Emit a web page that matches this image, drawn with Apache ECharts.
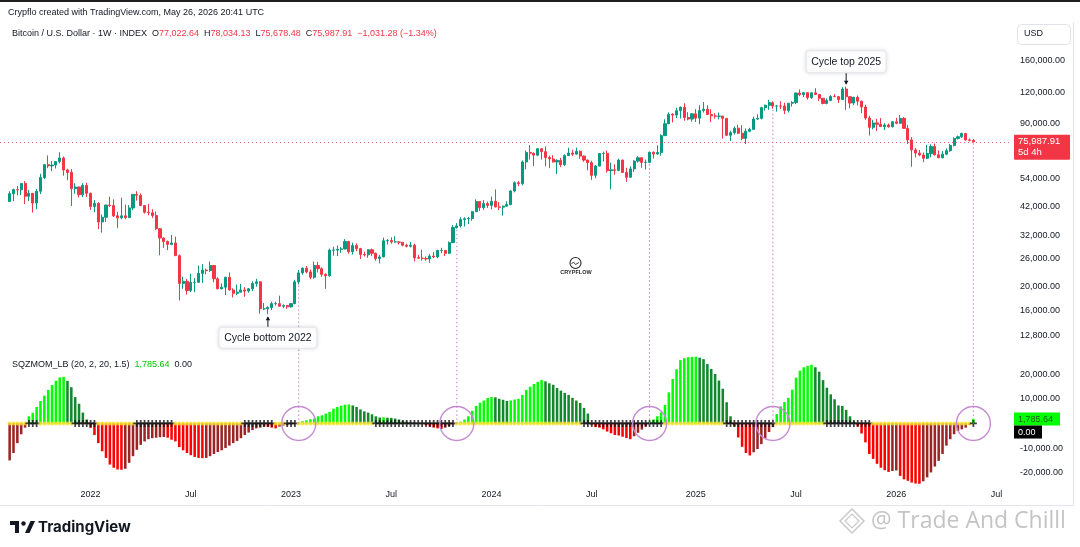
<!DOCTYPE html>
<html>
<head>
<meta charset="utf-8">
<script src="https://cdn.jsdelivr.net/npm/echarts@6/dist/echarts.min.js"></script>
<style>
  html, body { margin: 0; padding: 0; background: #fff; }
  #chart { width: 1080px; height: 547px; }
</style>
</head>
<body>
<div id="chart"></div>
<script>
// BTC / USD weekly, first bar = week of 2021-08-09, last = 2026-05-25
const firstWeek = '2021-08-09';
const leadBars = 2;   // empty slots left of the first candle
const tailBars = 9;   // empty slots right of the last candle
const firstOpen = 43800;

const closes = [
  // 2021
  47080,48900,48800,51780,46010,47260,43210,48200,54660,61530,60860,61320,63300,65470,58620,57280,49390,50100,46680,50800,47300,
  // 2022
  41900,43100,36300,37900,42400,42200,38400,37700,38400,37800,41300,46800,46400,42200,39700,39500,38500,34100,31300,30300,29500,29900,26600,20600,21000,19300,
  20800,20800,22600,23300,23200,24300,21500,19600,19900,21800,19400,18800,19000,19400,19200,19600,20600,20900,16300,16300,16500,17100,17100,16700,16800,16600,
  // 2023
  17100,20900,22700,23700,22900,21800,24300,23600,22400,22100,28000,28000,28200,28300,30300,27600,29200,28400,26900,26800,28100,27200,25900,26300,30500,30600,
  30200,30200,30100,29300,29000,29300,26100,26000,25900,25800,26500,26300,27900,27900,27200,30000,34500,35000,37100,37400,37500,39900,43800,41400,43000,42300,
  // 2024
  43900,41700,41600,42000,42600,48300,52100,51700,63100,68900,68400,67200,71300,69400,65700,64900,63100,64000,61500,66900,68500,67800,69600,66600,64200,62700,
  55800,60800,68200,68300,58200,58700,58400,64200,57300,54800,59200,63600,65600,62800,62900,69000,67900,68800,80400,89800,97900,97200,101200,104500,95100,93700,98300,
  // 2025
  94500,101300,102600,97700,96500,96200,96300,94300,80700,82600,86100,82300,78400,83800,85200,93700,94300,104100,106400,109000,105700,105700,105600,101500,108400,109200,
  119100,117300,119500,114200,119300,117500,113500,108200,111200,115300,115200,112200,123500,115100,108600,114500,110500,104700,94600,86800,90400,89300,87400,88700,87300,91400,
  // 2026
  90100,94300,86000,77300,70500,68500,67300,65300,68200,72800,67400,65600,67800,70000,73500,78400,79600,82000,77300,77022.64,75987.91
];

const highs = [
  48150,49300,50500,51900,52920,48800,47350,49200,56600,62000,66999,63700,63400,69000,66300,59300,59100,51900,50200,51900,52100,
  47500,44400,43500,38900,42600,45800,44700,39800,45400,42600,42400,46900,48200,47200,42400,42900,40800,40000,34300,31500,30600,32200,31700,26900,21900,21500,
  22500,21600,24300,24600,23600,25200,24400,21800,20600,21900,22800,19700,20400,20500,19900,19700,21000,21500,21000,17200,16700,17400,17400,18400,17000,16900,
  17200,21300,23300,23900,24200,23400,25200,25100,23900,22600,28400,28900,29200,28800,31000,30500,30000,29800,28600,27600,28200,28400,27400,26800,31400,31000,
  31500,31800,30400,29800,29700,30200,29700,26800,28100,26400,27000,27500,28100,28600,28000,30300,35300,35900,37900,37900,38000,40200,44700,44000,44400,43800,
  45900,49000,43600,42200,43900,48600,52800,52900,64000,70100,73800,68900,71700,71300,72800,66900,67200,64700,65500,67700,71900,70600,72000,70200,67000,64500,
  63800,61300,68400,69400,70000,62700,61800,65000,64500,59800,60600,64100,66500,66000,64500,69400,69500,73600,81500,93500,99600,98900,104000,105200,108400,99900,99000,
  102700,106400,109600,106500,102500,98800,99500,96500,94400,84100,87500,88800,88500,85900,86500,95800,97900,104900,107100,111900,110400,106800,110500,108900,108500,110600,
  119500,123200,120200,119800,119400,124500,117600,113600,113400,116800,117900,116000,125700,126200,116000,115000,116400,111000,107000,96600,93100,93900,94500,90200,89900,91900,
  94700,97300,95500,88700,79300,71800,70500,68800,73800,74200,74800,70200,69800,71500,74500,79000,80500,82700,82300,78400,78034.13
];

const lows = [
  43750,43950,46400,46500,42830,44000,39600,40800,46900,53900,59600,58000,59400,62300,55600,53300,42000,47100,45500,45600,45700,
  40600,39700,34000,32900,36300,41700,38000,34300,37200,37200,37600,40500,44200,42100,39200,38600,37700,33700,26700,28600,28000,29300,26600,17600,19600,18600,
  19000,19000,20800,20700,22400,22900,20800,19500,19500,18500,19300,18100,18500,19100,18200,18900,19200,20000,15600,16100,15500,16100,16800,16600,16400,16300,
  16500,17100,20400,22300,22600,21400,21500,22800,21900,19600,21900,26600,26500,27300,28200,27100,26900,27700,25800,26400,26100,26500,25400,24800,26200,29500,
  29700,30000,29500,29000,28700,28700,25200,25800,25400,25400,24900,26000,26000,27200,26500,27000,29900,34100,34500,34800,35600,36700,39900,40200,40600,41300,
  40800,41500,40500,38500,41800,42300,47700,50500,50900,59000,64500,60800,66600,64500,60600,59600,62800,56500,60200,60800,66700,66600,67500,65000,63200,58400,
  53500,54300,60600,63400,57200,49000,56100,57900,57200,52500,54600,57500,62700,59800,58900,62400,65100,67500,66800,80200,89400,90800,94500,94200,92200,92600,91500,
  91200,89300,99500,97700,91200,94100,93400,78200,80100,76600,81200,81600,77100,74400,83100,85200,92800,93400,101400,102100,103100,100400,102700,98200,99600,105100,
  107500,115700,114700,112000,112700,117200,110700,107300,107300,110600,114700,108700,111600,102000,103500,106500,106300,98900,93000,80600,85300,83900,87200,84800,86500,86700,
  89300,89800,85800,74500,60400,65800,66500,63000,64700,65900,67000,65400,65200,67200,69200,72800,77600,78800,76800,76300,75678.48
];

// SQZMOM_LB (20, 2, 20, 1.5) histogram, one value per week
const sqzMom = [
  -15000,-12000,-8000,-4400,-1700,2900,4300,6700,9100,11300,
  13600,15600,17300,18700,18900,17300,14700,10700,8000,4400,
  1600,-1800,-4700,-8000,-11300,-14000,-16700,-18000,-18700,-18800,
  -18400,-16000,-13300,-10700,-8700,-7300,-6400,-6000,-5800,-5600,
  -5500,-5800,-6600,-7300,-9600,-10900,-12000,-12900,-13600,-14000,
  -14100,-14000,-13300,-12400,-11600,-10900,-10000,-9000,-8000,-7100,
  -6000,-4700,-3700,-2700,-2000,-1700,-1300,-1400,-1700,-2000,
  -1300,-900,-700,-400,-300,300,900,1300,1700,2000,
  2900,3300,4000,4700,6000,6700,7200,7600,7700,7300,
  6700,5700,4900,4400,3700,2900,2400,2500,2300,2250,
  2000,1600,1100,700,400,300,100,50,-700,-1300,
  -1700,-2000,-2300,-1700,-1100,-400,200,700,1600,2900,
  5100,7100,8400,9300,10300,10700,10600,10000,9600,9100,
  9300,9700,10000,11600,13600,14900,16000,16900,17600,17100,
  16300,15700,14400,13300,12400,11600,10400,9300,8300,6300,
  4000,-500,-1500,-1700,-2400,-3300,-4000,-4700,-4900,-5400,
  -5900,-6400,-5200,-3800,-2500,-1200,400,1600,2900,4500,
  7500,12600,18000,22000,25700,26500,26900,27000,27100,26700,
  26100,24100,22100,20100,17400,14100,8600,2900,-1300,-5700,
  -9500,-12000,-13000,-11700,-10400,-8400,-6000,-3500,-1500,3800,
  6900,8700,10400,13700,18600,21400,22800,23400,23800,22800,
  21000,17600,14500,11800,9800,7300,7100,5500,2900,800,
  -1200,-4100,-7700,-12400,-14400,-16400,-18000,-19000,-19700,-19300,
  -19100,-21300,-22700,-23300,-24000,-24400,-24500,-23500,-21900,-19900,
  -17500,-15200,-12400,-9000,-6400,-4400,-3100,-2400,-1700,-600,
  1785.64
];

// weeks (bar index) where the squeeze is on -> black crosses on the zero line
const squeezeOn = [[5,7],[17,22],[33,42],[61,68],[72,74],[95,115],[149,169],[186,198],[212,223],[250,250]];

const priceTicks = [12800,16000,20000,26000,32000,42000,54000,90000,120000,160000];
const momTicks = [-20000,-10000,10000,20000];
const timeLabelDates = ['2022-01-03','2022-07-04','2023-01-02','2023-07-03','2024-01-01','2024-07-01','2025-01-06','2025-07-07','2026-01-05','2026-07-06'];
const timeLabelTexts = ['2022','Jul','2023','Jul','2024','Jul','2025','Jul','2026','Jul'];

const markedWeeks = [75,116,166,198,250];       // purple dotted lines + circles
const cycleBottom = { week: 67, text: 'Cycle bottom 2022' };
const cycleTop = { week: 217, text: 'Cycle top 2025' };
const lastPrice = 75987.91;

// ---- build
const FONT = 'Liberation Sans';
const N = leadBars + closes.length + tailBars;
const t0 = Date.parse(firstWeek + 'T00:00:00Z') - leadBars * 7 * 864e5;
const weeks = [];
for (let j = 0; j < N; j++) weeks.push(new Date(t0 + j * 7 * 864e5).toISOString().slice(0, 10));
const labelAt = new Map(timeLabelDates.map((d, k) => [d, timeLabelTexts[k]]));

const candles = closes.map((c, i) => {
  const o = i === 0 ? firstOpen : closes[i - 1];
  return [i + leadBars, o, c, lows[i], highs[i]];
});

const histBars = sqzMom.map((v, i) => {
  const prev = i === 0 ? null : sqzMom[i - 1];
  let color;
  if (v > 0) color = (prev !== null && v > prev) ? '#00ff00' : '#12872b';
  else color = (prev !== null && v < prev) ? '#ff0000' : '#9b2525';
  return { value: [i + leadBars, v], itemStyle: { color } };
});

const PLUS = 'path://M3 0H5V3H8V5H5V8H3V5H0V3H3Z';
const zeroDots = sqzMom.map((v, i) => {
  const on = squeezeOn.some(r => i >= r[0] && i <= r[1]);
  return {
    value: [i + leadBars, 0],
    symbol: on ? PLUS : 'circle',
    symbolSize: on ? 7 : 4,
    itemStyle: { color: on ? '#111111' : '#f5df1c' }
  };
});

const fmt = v => Number(v).toLocaleString('en-US', { minimumFractionDigits: 2, maximumFractionDigits: 2 });

const chart = echarts.init(document.getElementById('chart'), null, { renderer: 'canvas' });

const option = {
  animation: false,
  backgroundColor: '#ffffff',
  textStyle: { fontFamily: FONT },
  grid: [
    { left: 0, right: 70, top: 45, height: 307 },
    { left: 0, right: 70, top: 352, height: 133 }
  ],
  xAxis: [
    {
      type: 'category', gridIndex: 0, data: weeks, boundaryGap: true,
      axisLine: { show: false }, axisTick: { show: false }, axisLabel: { show: false }, splitLine: { show: false }
    },
    {
      type: 'category', gridIndex: 1, data: weeks, boundaryGap: true,
      axisLine: { show: false }, axisTick: { show: false }, splitLine: { show: false },
      axisLabel: {
        interval: (idx, val) => labelAt.has(val),
        formatter: val => labelAt.get(val) || '',
        fontSize: 9, color: '#131722', margin: 5, hideOverlap: false, fontFamily: FONT
      }
    }
  ],
  yAxis: [
    {
      type: 'log', gridIndex: 0, position: 'right', min: 10949, max: 185430,
      axisLine: { show: false }, axisTick: { show: false }, splitLine: { show: false },
      axisLabel: { customValues: priceTicks, formatter: fmt, fontSize: 9, color: '#131722', margin: 10, fontFamily: FONT }
    },
    {
      type: 'value', gridIndex: 1, position: 'right', min: -25000, max: 29000,
      axisLine: { show: false }, axisTick: { show: false }, splitLine: { show: false },
      axisLabel: { customValues: momTicks, formatter: fmt, fontSize: 9, color: '#131722', margin: 10, fontFamily: FONT }
    }
  ],
  series: [
    {
      name: 'BTCUSD', type: 'candlestick', xAxisIndex: 0, yAxisIndex: 0,
      data: candles, encode: { x: 0, y: [1, 2, 3, 4] },
      barWidth: 2.6,
      itemStyle: { color: '#089981', color0: '#f23645', borderColor: '#089981', borderColor0: '#f23645', borderWidth: 1 },
      markLine: {
        silent: true, symbol: 'none', label: { show: false },
        lineStyle: { color: '#f23645', type: [1, 3], width: 1, opacity: 0.75 },
        data: [{ yAxis: lastPrice }]
      }
    },
    {
      name: 'SQZMOM', type: 'bar', xAxisIndex: 1, yAxisIndex: 1,
      data: histBars, barWidth: '66%', z: 2
    },
    {
      name: 'squeeze', type: 'scatter', xAxisIndex: 1, yAxisIndex: 1,
      data: zeroDots, z: 4, silent: true
    }
  ]
};
chart.setOption(option);

// ---- annotations tied to data through the axes
const px = (grid, i, v) => chart.convertToPixel({ gridIndex: grid }, [i + leadBars, v]);
const g = [];

// frame + header
g.push({ type: 'rect', shape: { x: 0, y: 0, width: 1080, height: 2 }, style: { fill: '#1e1e1e' }, silent: true });
g.push({ type: 'line', shape: { x1: 1073.5, y1: 22, x2: 1073.5, y2: 505.5 }, style: { stroke: '#e3e5ea', lineWidth: 1 } });
g.push({ type: 'line', shape: { x1: 0, y1: 505.5, x2: 1073.5, y2: 505.5 }, style: { stroke: '#e3e5ea', lineWidth: 1 } });
g.push({ type: 'text', left: 8, top: 8, style: { text: 'Crypflo created with TradingView.com, May 26, 2026 20:41 UTC', fontSize: 9, fill: '#131722', fontFamily: FONT } });
g.push({
  type: 'text', left: 12, top: 29,
  style: {
    text: '{n|Bitcoin / U.S. Dollar · 1W · INDEX}  {k|O}{v|77,022.64}  {k|H}{v|78,034.13}  {k|L}{v|75,678.48}  {k|C}{v|75,987.91}  {v|−1,031.28 (−1.34%)}',
    fontFamily: FONT, fontSize: 9,
    rich: {
      n: { fill: '#131722', fontSize: 9, fontFamily: FONT },
      k: { fill: '#131722', fontSize: 9, fontFamily: FONT },
      v: { fill: '#f23645', fontSize: 9, fontFamily: FONT }
    }
  }
});
g.push({ type: 'rect', shape: { x: 1017.5, y: 24.5, width: 53, height: 20, r: 4 }, style: { fill: '#fff', stroke: '#e0e3eb', lineWidth: 1 } });
g.push({ type: 'text', left: 1024, top: 29, style: { text: 'USD', fontSize: 9, fill: '#131722', fontFamily: FONT } });

// last price tag
const lp = px(0, closes.length - 1, lastPrice);
g.push({ type: 'rect', shape: { x: 1014, y: lp[1] - 7, width: 56, height: 25, r: 1 }, style: { fill: '#f23645' } });
g.push({ type: 'text', x: 1018, y: lp[1], style: { text: fmt(lastPrice), fontSize: 9.5, fill: '#fff', fontFamily: FONT, verticalAlign: 'middle' } });
g.push({ type: 'text', x: 1018, y: lp[1] + 11, style: { text: '5d 4h', fontSize: 9.5, fill: '#fff', fontFamily: FONT, verticalAlign: 'middle' } });

// indicator legend + value tags
const lastMom = sqzMom[sqzMom.length - 1];
g.push({
  type: 'text', left: 12, top: 360,
  style: {
    text: '{a|SQZMOM_LB (20, 2, 20, 1.5)}  {b|' + fmt(lastMom) + '}  {a|0.00}',
    fontFamily: FONT, fontSize: 9,
    rich: { a: { fill: '#131722', fontSize: 9, fontFamily: FONT }, b: { fill: '#00c800', fontSize: 9, fontFamily: FONT } }
  }
});
const mp = px(1, sqzMom.length - 1, lastMom);
g.push({ type: 'rect', shape: { x: 1014, y: mp[1] - 6.5, width: 46, height: 13 }, style: { fill: '#00ff00' } });
g.push({ type: 'text', x: 1018, y: mp[1], style: { text: fmt(lastMom), fontSize: 9, fill: '#1a5c1a', fontFamily: FONT, verticalAlign: 'middle' } });
g.push({ type: 'rect', shape: { x: 1014, y: mp[1] + 6.5, width: 28, height: 13 }, style: { fill: '#000' } });
g.push({ type: 'text', x: 1018, y: mp[1] + 13, style: { text: '0.00', fontSize: 9, fill: '#fff', fontFamily: FONT, verticalAlign: 'middle' } });

// purple dotted lines and circles
markedWeeks.forEach(w => {
  const top = px(0, w, lows[w]);
  const zero = px(1, w, 0);
  g.push({ type: 'line', shape: { x1: top[0], y1: top[1] + 1, x2: zero[0], y2: zero[1] - 17 }, style: { stroke: '#c67fd0', lineWidth: 1, lineDash: [1.5, 2.5] }, z: 10 });
  g.push({ type: 'line', shape: { x1: top[0], y1: zero[1] - 17, x2: zero[0], y2: zero[1] }, style: { stroke: '#c67fd0', lineWidth: 1, lineDash: [1.5, 2.5] }, z: 10 });
  g.push({ type: 'circle', shape: { cx: zero[0], cy: zero[1], r: 17 }, style: { fill: 'none', stroke: '#c58bd1', lineWidth: 1.4 }, z: 10 });
});

// cycle bottom label
const cb = px(0, cycleBottom.week, lows[cycleBottom.week]);
g.push({ type: 'line', shape: { x1: cb[0], y1: cb[1] + 3, x2: cb[0], y2: cb[1] + 13 }, style: { stroke: '#131722', lineWidth: 1 }, z: 11 });
g.push({ type: 'polygon', shape: { points: [[cb[0] - 2.2, cb[1] + 6], [cb[0] + 2.2, cb[1] + 6], [cb[0], cb[1] + 2]] }, style: { fill: '#131722' }, z: 11 });
g.push({ type: 'rect', shape: { x: cb[0] - 49, y: cb[1] + 13, width: 98, height: 21, r: 3 }, style: { fill: '#fff', stroke: '#e4e6eb', lineWidth: 1, shadowBlur: 4, shadowColor: 'rgba(0,0,0,0.12)' }, z: 11 });
g.push({ type: 'text', x: cb[0], y: cb[1] + 23.5, style: { text: cycleBottom.text, fontSize: 10.5, fill: '#131722', fontFamily: FONT, align: 'center', verticalAlign: 'middle' }, z: 12 });

// cycle top label
const ct = px(0, cycleTop.week, highs[cycleTop.week]);
g.push({ type: 'line', shape: { x1: ct[0], y1: ct[1] - 14, x2: ct[0], y2: ct[1] - 3 }, style: { stroke: '#131722', lineWidth: 1 }, z: 11 });
g.push({ type: 'polygon', shape: { points: [[ct[0] - 2.2, ct[1] - 6], [ct[0] + 2.2, ct[1] - 6], [ct[0], ct[1] - 2]] }, style: { fill: '#131722' }, z: 11 });
g.push({ type: 'rect', shape: { x: ct[0] - 40, y: ct[1] - 36, width: 80, height: 22, r: 3 }, style: { fill: '#fff', stroke: '#e4e6eb', lineWidth: 1, shadowBlur: 4, shadowColor: 'rgba(0,0,0,0.12)' }, z: 11 });
g.push({ type: 'text', x: ct[0], y: ct[1] - 25, style: { text: cycleTop.text, fontSize: 10.5, fill: '#131722', fontFamily: FONT, align: 'center', verticalAlign: 'middle' }, z: 12 });

// CRYPFLOW mark
g.push({ type: 'circle', shape: { cx: 575.5, cy: 263, r: 5.5 }, style: { fill: 'none', stroke: '#2a2a2a', lineWidth: 1.1 } });
g.push({ type: 'polyline', shape: { points: [[571.5, 264], [573.5, 262], [575.5, 264.5], [579, 262.5]] }, style: { stroke: '#2a2a2a', lineWidth: 0.9 } });
g.push({ type: 'text', x: 576, y: 272.5, style: { text: 'CRYPFLOW', fontSize: 5.5, fontWeight: 'bold', fill: '#2a2a2a', fontFamily: FONT, align: 'center', verticalAlign: 'middle' } });

// TradingView logo
g.push({ type: 'rect', shape: { x: 10, y: 521, width: 9, height: 4 }, style: { fill: '#131722' } });
g.push({ type: 'rect', shape: { x: 15, y: 521, width: 4, height: 12 }, style: { fill: '#131722' } });
g.push({ type: 'circle', shape: { cx: 23.5, cy: 523.5, r: 2.2 }, style: { fill: '#131722' } });
g.push({ type: 'polygon', shape: { points: [[25, 533], [30.5, 521], [35, 521], [29.5, 533]] }, style: { fill: '#131722' } });
g.push({ type: 'text', x: 38, y: 527.5, style: { text: 'TradingView', fontSize: 15, fontWeight: 'bold', fill: '#131722', fontFamily: 'Inter', verticalAlign: 'middle' } });

// watermark
g.push({ type: 'polygon', shape: { points: [[852, 509], [864, 521], [852, 533], [840, 521]] }, style: { fill: 'none', stroke: '#c9c9c9', lineWidth: 1.5 } });
g.push({ type: 'polygon', shape: { points: [[852, 514], [859, 521], [852, 528], [845, 521]] }, style: { fill: 'none', stroke: '#c9c9c9', lineWidth: 1.2 } });
g.push({ type: 'text', x: 871, y: 521, style: { text: '@ Trade And Chilll', fontSize: 23, fill: '#c4c4c4', fontFamily: 'Open Sans', verticalAlign: 'middle' } });

chart.setOption({ graphic: g });
</script>
</body>
</html>
